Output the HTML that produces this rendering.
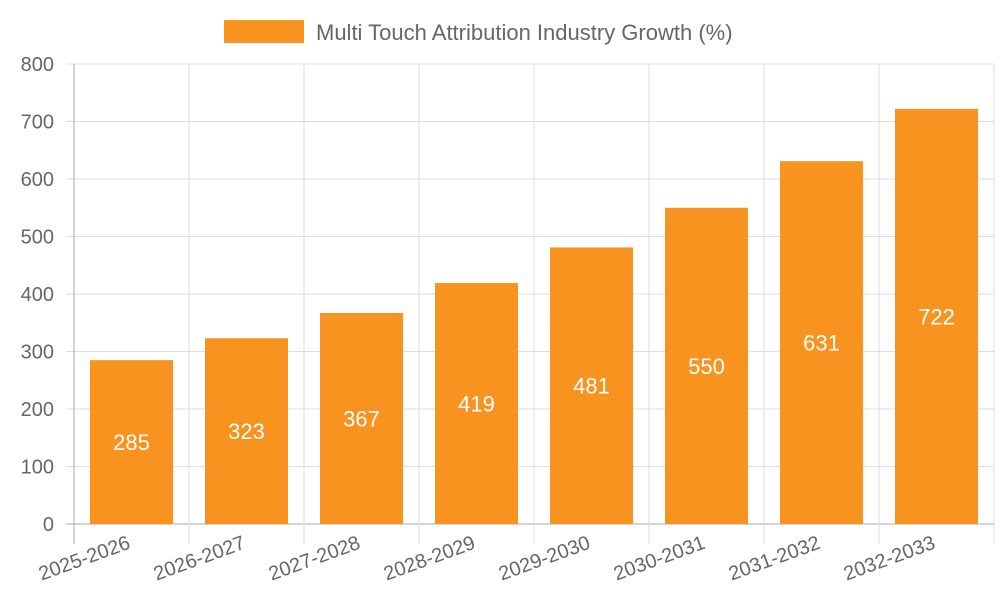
<!DOCTYPE html>
<html><head><meta charset="utf-8"><style>
body{margin:0;background:#fff;}
svg text{font-family:"Liberation Sans",sans-serif;}
</style></head><body>
<svg id="c" width="1000" height="600">
<g>
<rect x="224" y="20" width="80" height="23" fill="#f7931e"/>
<text x="316" y="40" font-size="22" fill="#666">Multi Touch Attribution Industry Growth (%)</text>
</g>
</svg>
<script>
const categories=["2025-2026","2026-2027","2027-2028","2028-2029","2029-2030","2030-2031","2031-2032","2032-2033"];
const values=[285,323,367,419,481,550,631,722];
const yTicks=[0,100,200,300,400,500,600,700,800];
const svg=document.getElementById('c');
const NS='http://www.w3.org/2000/svg';
const L=74,R=994,T=64,B=524,yMax=800;
const y=v=>B-(v/yMax)*(B-T);
const bw=(R-L)/categories.length;
const x=i=>L+i*bw;
function mk(t,a,p){const e=document.createElementNS(NS,t);for(const k in a)e.setAttribute(k,a[k]);(p||svg).appendChild(e);return e;}
const grid=mk('g',{});


yTicks.forEach(v=>{
  mk('line',{x1:66,x2:R,y1:y(v),y2:y(v),stroke:v===0?'#aaa':'#ddd','stroke-width':1},grid);
  const t=mk('text',{x:54,y:y(v)+7,'font-size':20,fill:'#666','text-anchor':'end'});
  t.textContent=v;
  
  
});
for(let i=0;i<=categories.length;i++){
  mk('line',{x1:x(i),x2:x(i),y1:T,y2:B+20,stroke:i===0?'#aaa':'#ddd','stroke-width':1},grid);
}
categories.forEach((c,i)=>{
  const cx=x(i)+bw/2, w=83;
  const r=mk('rect',{x:cx-w/2,y:y(values[i]),width:w,height:B-y(values[i]),fill:'#f7931e'});
  
  
  const t=mk('text',{x:cx,y:(y(values[i])+B)/2+8,'font-size':22,fill:'#fff','text-anchor':'middle'});
  t.textContent=values[i];
  
  
  const xl=mk('text',{x:cx,y:548,'font-size':20,fill:'#666','text-anchor':'end',transform:`rotate(-20 ${cx} 548)`});
  xl.textContent=c;
  
  
});
</script>
</body></html>
